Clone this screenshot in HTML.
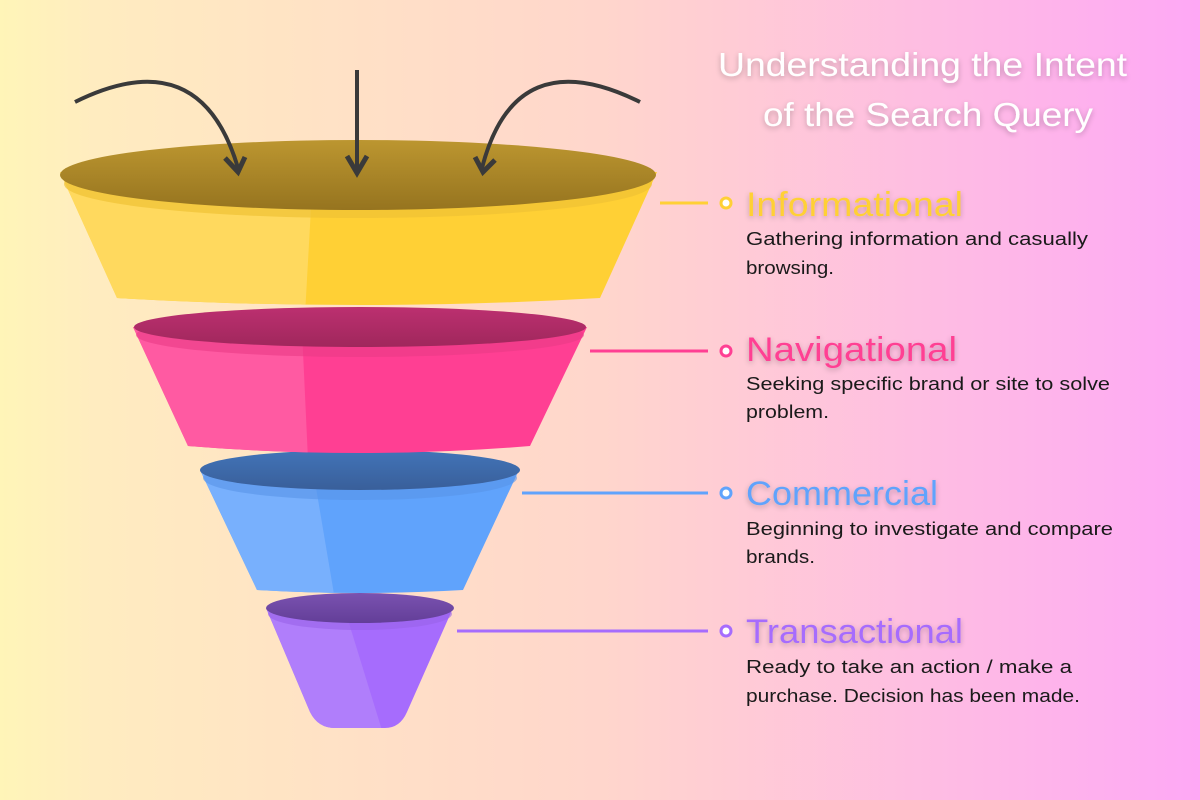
<!DOCTYPE html>
<html><head><meta charset="utf-8"><style>
html,body{margin:0;padding:0;width:1200px;height:800px;overflow:hidden}
svg{display:block}
text{font-family:"Liberation Sans",sans-serif}
</style></head><body>
<svg width="1200" height="800" viewBox="0 0 1200 800" xmlns="http://www.w3.org/2000/svg">
<defs>
<linearGradient id="bg" x1="0" x2="1" y1="0" y2="0">
<stop offset="0" stop-color="#fff5b8"/><stop offset="0.08" stop-color="#ffecc0"/><stop offset="0.5" stop-color="#ffd6cc"/><stop offset="1" stop-color="#fea8f5"/>
</linearGradient>
<linearGradient id="ty" x1="0" y1="0" x2="0" y2="1"><stop offset="0" stop-color="#bc9630"/><stop offset="1" stop-color="#96741f"/></linearGradient>
<linearGradient id="tp" x1="0" y1="0" x2="0" y2="1"><stop offset="0" stop-color="#bc3070"/><stop offset="1" stop-color="#a0275c"/></linearGradient>
<linearGradient id="tb" x1="0" y1="0" x2="0" y2="1"><stop offset="0" stop-color="#4274b8"/><stop offset="1" stop-color="#395f9a"/></linearGradient>
<linearGradient id="tv" x1="0" y1="0" x2="0" y2="1"><stop offset="0" stop-color="#7a52b0"/><stop offset="1" stop-color="#633e98"/></linearGradient>
<filter id="sh" x="-10%" y="-30%" width="120%" height="160%"><feGaussianBlur in="SourceAlpha" stdDeviation="3"/><feOffset dy="2"/><feComponentTransfer><feFuncA type="linear" slope="0.25"/></feComponentTransfer><feMerge><feMergeNode/><feMergeNode in="SourceGraphic"/></feMerge></filter>
<clipPath id="cv"><path d="M266 608 L310 712 Q318 728 335 728 L385 728 Q400 728 407 712 L453 608 Z"/></clipPath>
<clipPath id="cb"><path d="M200 470 L257 590 Q360 596 463 590 L519 470 Z"/></clipPath>
<clipPath id="cp"><path d="M133 327 L188 446 Q360 460 530 446 L587 327 Z"/></clipPath>
<clipPath id="cy"><path d="M60 172 L117 298 Q360 312 600 298 L657 172 Z"/></clipPath>
</defs>
<rect width="1200" height="800" fill="url(#bg)"/>

<!-- Purple -->
<path d="M266 608 L310 712 Q318 728 335 728 L385 728 Q400 728 407 712 L453 608 Z" fill="#a66cfd"/>
<path d="M250 600 L250 740 L385 740 L348 620 Z" fill="#b07efb" clip-path="url(#cv)"/>
<ellipse cx="360" cy="614" rx="92" ry="16" fill="#9a62ea" opacity="0.6"/>
<ellipse cx="360" cy="608" rx="94" ry="15" fill="url(#tv)"/>

<!-- Blue -->
<path d="M200 470 L257 590 Q360 596 463 590 L519 470 Z" fill="#60a3fc"/>
<path d="M190 460 L190 600 L335 600 L313 470 Z" fill="#78b0fd" clip-path="url(#cb)"/>
<ellipse cx="360" cy="478" rx="157" ry="22" fill="#5895e8" opacity="0.6"/>
<ellipse cx="360" cy="470" rx="160" ry="20" fill="url(#tb)"/>

<!-- Pink -->
<path d="M133 327 L188 446 Q360 460 530 446 L587 327 Z" fill="#ff3f93"/>
<path d="M120 320 L120 460 L308 460 L302 330 Z" fill="#ff5aa2" clip-path="url(#cp)"/>
<ellipse cx="360" cy="335" rx="224" ry="22" fill="#ea3a85" opacity="0.6"/>
<ellipse cx="360" cy="327" rx="226" ry="20" fill="url(#tp)"/>

<!-- Yellow -->
<path d="M60 172 L117 298 Q360 312 600 298 L657 172 Z" fill="#ffd035"/>
<path d="M50 165 L50 315 L305 315 L312 190 Z" fill="#ffd95e" clip-path="url(#cy)"/>
<ellipse cx="358" cy="184" rx="294" ry="34" fill="#f0c234" opacity="0.7"/>
<ellipse cx="358" cy="175" rx="298" ry="35" fill="url(#ty)"/>

<!-- arrows -->
<g fill="none" stroke="#3a3a3a" stroke-width="4" stroke-linecap="butt">
<path d="M75 102 Q200 40 238 168"/>
<path d="M225 158 L238 172 L245 157" stroke-width="5"/>
<line x1="357" y1="70" x2="357" y2="172"/>
<path d="M347 156 L357 173 L367 156" stroke-width="5"/>
<path d="M640 102 Q515 40 482 168"/>
<path d="M475 157 L483 172 L495 160" stroke-width="5"/>
</g>

<!-- title -->
<g fill="#fff" font-size="33" filter="url(#sh)">
<text x="718" y="76" textLength="409" lengthAdjust="spacingAndGlyphs">Understanding the Intent</text>
<text x="763" y="126" textLength="330" lengthAdjust="spacingAndGlyphs">of the Search Query</text>
</g>

<!-- connectors -->
<g stroke-width="3">
<line x1="660" y1="203" x2="708" y2="203" stroke="#ffd035"/>
<circle cx="726" cy="203" r="5" fill="#fff" stroke="#ffd035"/>
<line x1="590" y1="351" x2="708" y2="351" stroke="#ff3f93"/>
<circle cx="726" cy="351" r="5" fill="#fff" stroke="#ff3f93"/>
<line x1="522" y1="493" x2="708" y2="493" stroke="#60a3fc"/>
<circle cx="726" cy="493" r="5" fill="#fff" stroke="#60a3fc"/>
<line x1="457" y1="631" x2="708" y2="631" stroke="#a66cfd"/>
<circle cx="726" cy="631" r="5" fill="#fff" stroke="#a66cfd"/>
</g>

<g font-size="34" filter="url(#sh)">
<text x="746" y="216" fill="#ffd035" textLength="217" lengthAdjust="spacingAndGlyphs">Informational</text>
<text x="746" y="361" fill="#ff3f93" textLength="211" lengthAdjust="spacingAndGlyphs">Navigational</text>
<text x="746" y="505" fill="#60a3fc" textLength="192" lengthAdjust="spacingAndGlyphs">Commercial</text>
<text x="746" y="643" fill="#a66cfd" textLength="217" lengthAdjust="spacingAndGlyphs">Transactional</text>
</g>

<g font-size="18" fill="#1a1a1a">
<text x="746" y="245" textLength="342" lengthAdjust="spacingAndGlyphs">Gathering information and casually</text>
<text x="746" y="274" textLength="88" lengthAdjust="spacingAndGlyphs">browsing.</text>
<text x="746" y="390" textLength="364" lengthAdjust="spacingAndGlyphs">Seeking specific brand or site to solve</text>
<text x="746" y="418" textLength="83" lengthAdjust="spacingAndGlyphs">problem.</text>
<text x="746" y="535" textLength="367" lengthAdjust="spacingAndGlyphs">Beginning to investigate and compare</text>
<text x="746" y="563" textLength="69" lengthAdjust="spacingAndGlyphs">brands.</text>
<text x="746" y="673" textLength="326" lengthAdjust="spacingAndGlyphs">Ready to take an action / make a</text>
<text x="746" y="702" textLength="334" lengthAdjust="spacingAndGlyphs">purchase. Decision has been made.</text>
</g>
</svg>
</body></html>
